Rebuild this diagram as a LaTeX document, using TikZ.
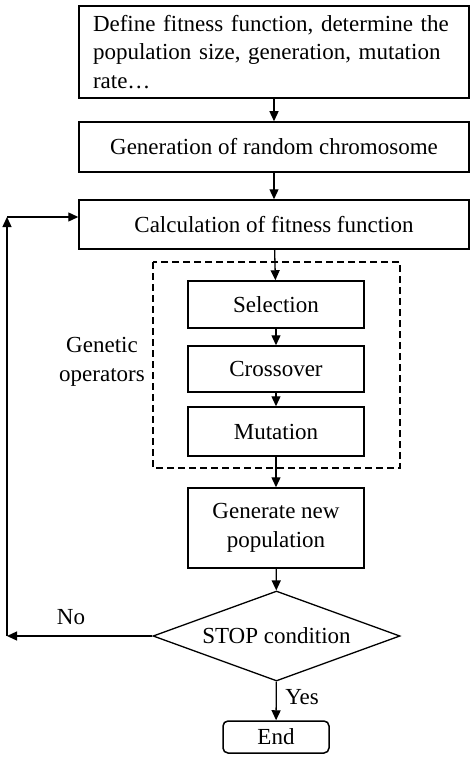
\documentclass[tikz,border=0pt]{standalone}
\usepackage{fontspec}
\setmainfont{Liberation Serif}
\usetikzlibrary{shapes.geometric,arrows.meta}
\begin{document}
\begin{tikzpicture}[x=1pt,y=-1pt,
    font=\fontsize{23}{28.5}\selectfont,
    stepbox/.style={draw,line width=1.5pt,inner sep=0pt,align=center},
    flow/.style={line width=1.3pt,-{Triangle[length=10pt,width=9pt]}}]
            \useasboundingbox (0,0) rectangle (474,757);
            \node[stepbox,minimum width=390pt,minimum height=92pt,text width=362pt,align=left] (define) at (274,52)
              {Define fitness function, determine the\\population size, generation, mutation\\rate\ldots};
            \node[stepbox,minimum width=390pt,minimum height=50pt] (random) at (274,147) {Generation of random chromosome};
            \node[stepbox,minimum width=390pt,minimum height=49pt] (fitness) at (274,224.5) {Calculation of fitness function};

            \draw[line width=1.3pt,dash pattern=on 7pt off 4pt] (153,262) rectangle (400,468);
            \node[align=center] (ops) at (102,362) {Genetic\\operators};
            \node[stepbox,minimum width=176pt,minimum height=47pt] (select) at (276,304.5) {Selection};
            \node[stepbox,minimum width=176pt,minimum height=46pt] (cross) at (276,369) {Crossover};
            \node[stepbox,minimum width=176pt,minimum height=49pt] (mutate) at (276,431.5) {Mutation};

            \node[stepbox,minimum width=176pt,minimum height=80pt] (newpop) at (276,528) {Generate new\\population};
            \node[draw,line width=1.3pt,diamond,aspect=2.75,inner sep=0pt,minimum width=247pt,minimum height=90pt] (stop) at (276.5,636) {STOP condition};
            \node[draw,line width=1.5pt,rounded corners=5pt,minimum width=106pt,minimum height=32pt,inner sep=0pt] (end) at (276,737) {End};

            \coordinate (nobot) at (7,636);
            \coordinate (notop) at (7,217);

            \draw[flow] (define) -- (random);
            \draw[flow] (random) -- (fitness);
            \draw[flow] (fitness) -- (select);
            \draw[flow] (select) -- (cross);
            \draw[flow] (cross) -- (mutate);
            \draw[flow] (mutate) -- (newpop);
            \draw[flow] (newpop) -- (stop);
            \draw[flow] (stop) -- (end);
            \draw[flow] (stop.west) -- (nobot);
            \draw[flow] (nobot) -- (notop);
            \draw[flow] (notop) -- (notop -| fitness.west);
            \node at (71,617) {No};
            \node at (302,697) {Yes};
          \end{tikzpicture}
\end{document}
